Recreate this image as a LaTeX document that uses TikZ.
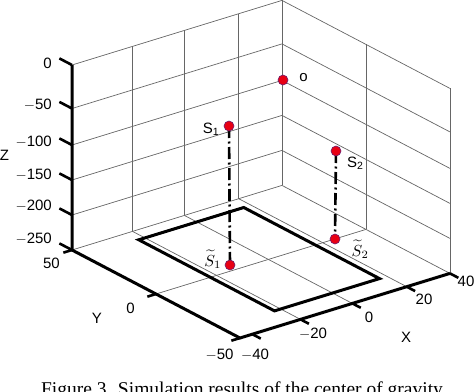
\documentclass[tikz,border=0pt]{standalone}
\usepackage{graphicx}
\usepackage[no-math]{fontspec}
\setmainfont{Liberation Sans}
\newfontfamily\capfont{Liberation Serif}
\newcommand{\tildeS}[1]{\scalebox{1.6}{\fontsize{10}{12}\selectfont$\widetilde{S}_{#1}$}}
\begin{document}
\begin{tikzpicture}[x=1pt,y=-1pt,
  gridline/.style={draw=black!60, line width=0.7pt},
  axisline/.style={draw=black, line width=3pt, line join=miter},
  tickmark/.style={draw=black, line width=2.6pt},
  frame/.style={draw=black, line width=3pt, line join=miter},
  dropline/.style={draw=black, line width=2.6pt, dash pattern=on 12pt off 3.5pt on 2pt off 3.5pt},
  reddot/.style={circle, minimum size=10pt, inner sep=0pt, fill={rgb,255:red,232;green,0;blue,20}, draw={rgb,255:red,110;green,30;blue,110}, line width=0.6pt},
  lab/.style={font=\fontsize{15}{18}\selectfont, inner sep=0pt},
  captext/.style={font=\capfont\fontsize{19.5}{22}\selectfont, inner sep=0pt}]
\useasboundingbox (0,0) rectangle (474,391);
\clip (0,0) rectangle (474,391);
\begin{scope}[shift={(267.15,259.8)}, x={(2.47pt,0.76pt)}, y={(-1.68pt,0.88pt)}, z={(0pt,1pt)}]
  % back wall (Y = 50)
  \foreach \h in {35,70,105,141.5,185}
    \draw[gridline] (-45,50,\h) -- (40,50,\h) -- (40,-50,\h);
  \foreach \u in {-20.5,0.5,22.5,40}
    \draw[gridline] (\u,50,0) -- (\u,50,185);
  % right wall (X = 40)
  \foreach \v in {0,-50}
    \draw[gridline] (40,\v,0) -- (40,\v,185);
  % floor
  \draw[gridline] (-45,50,0) -- (40,50,0) -- (40,-50,0);
  \foreach \u in {-20.5,0.5,22.5}
    \draw[gridline] (\u,50,0) -- (\u,-50,0);
  \draw[gridline] (-45,0,0) -- (40,0,0);
  % rectangle on the floor
  \draw[frame] (-23,42.6,0) -- (19.5,42.6,0) -- (19.5,-38.2,0) -- (-23,-38.2,0) -- cycle;
  % axes
  \draw[axisline] (-45,50,185) -- (-45,50,0) -- (-45,-50,0) -- (40,-50,0);
  \foreach \h in {0,35,70,105,141.5,185}
    \draw[tickmark] (-45,50,\h) -- (-45,57.5,\h);
  \foreach \v in {-50,0,50}
    \draw[tickmark] (-45,\v,0) -- (-48.5,\v,0);
  \foreach \u in {-40,-20.5,0.5,22.5,40}
    \draw[tickmark] (\u,-50,0) -- (\u,-55,0);
\end{scope}
% Z tick labels
\node[lab, anchor=east] (z0) at (52,63) {0};
\node[lab, anchor=east] (z50) at (52,105) {$-$50};
\node[lab, anchor=east] (z100) at (52,141.5) {$-$100};
\node[lab, anchor=east] (z150) at (52,175) {$-$150};
\node[lab, anchor=east] (z200) at (52,206) {$-$200};
\node[lab, anchor=east] (z250) at (52,238.5) {$-$250};
\node[lab] (zl) at (4.5,155) {Z};
% Y tick labels
\node[lab] (y50) at (51.5,263.5) {50};
\node[lab] (y0) at (130.5,308) {0};
\node[lab] (ym50) at (219.5,354.5) {$-$50};
\node[lab] (yl) at (97,318) {Y};
% X tick labels
\node[lab] (xm40) at (255,355) {$-$40};
\node[lab] (xm20) at (313,334) {$-$20};
\node[lab] (x0) at (369,317.5) {0};
\node[lab] (x20) at (424,299) {20};
\node[lab] (x40) at (466,281) {40};
\node[lab] (xl) at (406,337.5) {X};
% points
\coordinate (pO) at (283,80);
\coordinate (pS1) at (229,126);
\coordinate (pS1t) at (230,265);
\coordinate (pS2) at (336,151);
\coordinate (pS2t) at (335,239);
\draw[dropline] (pS1) -- (pS1t);
\draw[dropline] (pS2) -- (pS2t);
\node[reddot] (O) at (pO) {};
\node[reddot] (S1) at (pS1) {};
\node[reddot] (S1t) at (pS1t) {};
\node[reddot] (S2) at (pS2) {};
\node[reddot] (S2t) at (pS2t) {};
% point labels
\node[lab] (lO) at (303.5,77.5) {o};
\node[lab, anchor=base east] (lS1) at (221.5,266) {\tildeS{1}};
\node[lab, anchor=base east] (lS1a) at (219.5,133.5) {S\textsubscript{1}};
\node[lab, anchor=base west] (lS2) at (347,167) {S\textsubscript{2}};
\node[lab, anchor=base west] (lS2t) at (351.5,256) {\tildeS{2}};
% caption
\node[captext, anchor=base] (caption) at (242,395) {Figure 3. Simulation results of the center of gravity};
\end{tikzpicture}
\end{document}
